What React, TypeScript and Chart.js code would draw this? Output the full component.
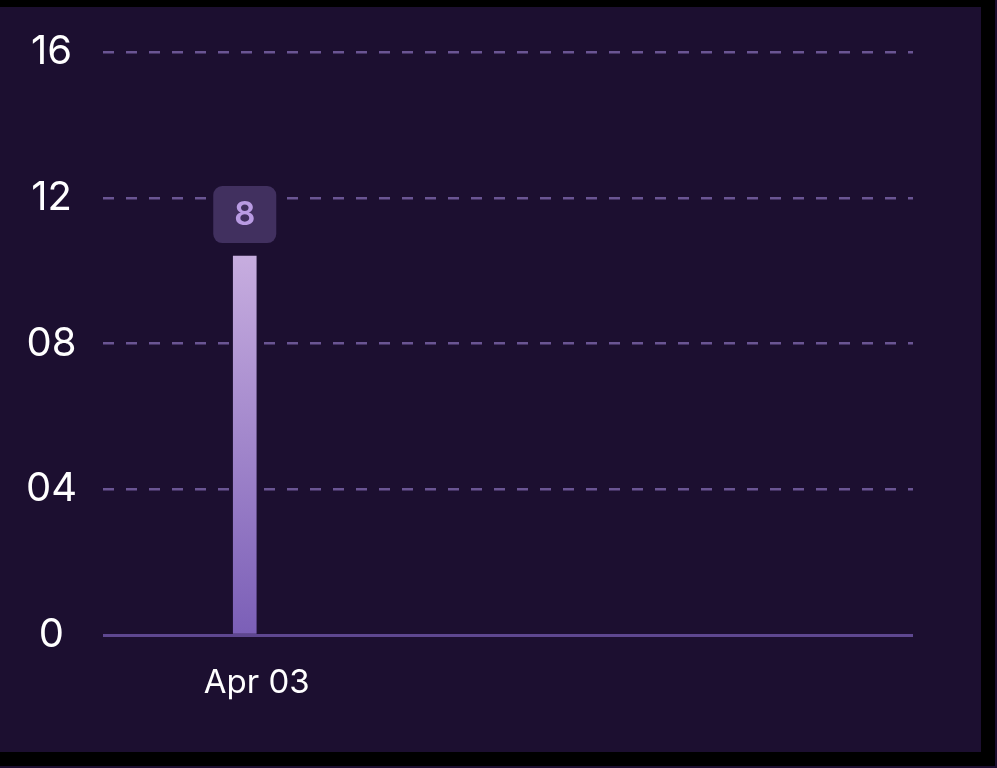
import React, { useEffect, useRef } from "react";
import { Chart, registerables } from "chart.js";

Chart.register(...registerables);

// ---- data ----
const categories: string[] = [
  "", "", "", "Apr 03", "", "", "", "", "", "",
  "", "", "", "", "", "", "", "", "", "",
];
const barValues: (number | null)[] = [
  null, null, null, 10.4, null, null, null, null, null, null,
  null, null, null, null, null, null, null, null, null, null,
];
const badgeTexts: string[] = [
  "", "", "", "8", "", "", "", "", "", "",
  "", "", "", "", "", "", "", "", "", "",
];
const yTickValues: number[] = [0, 4, 8, 12, 16];

const FONT = "Inter, 'Noto Sans', sans-serif";
const PANEL_BG = "#1c0f30";

const badgePlugin = {
  id: "badgePlugin",
  afterDatasetsDraw(chart: any) {
    const meta = chart.getDatasetMeta(0);
    const ctx = chart.ctx as CanvasRenderingContext2D;
    meta.data.forEach((bar: any, i: number) => {
      const txt = badgeTexts[i];
      if (!txt || barValues[i] == null) return;
      const w = 63;
      const h = 57;
      const gap = 13;
      const x = bar.x - w / 2;
      const y = bar.y - gap - h;
      ctx.save();
      ctx.fillStyle = "#41305f";
      ctx.beginPath();
      (ctx as any).roundRect(x, y, w, h, 9);
      ctx.fill();
      ctx.fillStyle = "#b99be3";
      ctx.font = `600 33px ${FONT}`;
      ctx.textAlign = "center";
      ctx.textBaseline = "middle";
      ctx.fillText(txt, bar.x, y + h / 2 + 1);
      ctx.restore();
    });
  },
};

export default function App() {
  const ref = useRef<HTMLCanvasElement | null>(null);

  useEffect(() => {
    document.body.style.margin = "0";
    document.body.style.background = PANEL_BG;
    if (!ref.current) return;
    const chart = new Chart(ref.current, {
      type: "bar",
      data: {
        labels: categories,
        datasets: [
          {
            data: barValues,
            barThickness: 23,
            borderWidth: 0,
            borderRadius: 0,
            backgroundColor: (c: any) => {
              const chart = c.chart;
              const { ctx, chartArea, scales } = chart;
              if (!chartArea || c.raw == null) return "#a78bd0";
              const yTop = scales.y.getPixelForValue(c.raw);
              const yBase = scales.y.getPixelForValue(0);
              const g = ctx.createLinearGradient(0, yTop, 0, yBase);
              g.addColorStop(0, "#c7addf");
              g.addColorStop(1, "#7b5fb7");
              return g;
            },
          },
        ],
      },
      options: {
        animation: false,
        responsive: false,
        maintainAspectRatio: false,
        layout: { padding: { left: 0, right: 68, top: 45, bottom: 0 } },
        plugins: {
          legend: { display: false },
          tooltip: { enabled: false },
        },
        scales: {
          x: {
            grid: { display: false, drawTicks: false },
            border: { display: false },
            afterFit: (s: any) => {
              s.height = 117;
            },
            ticks: {
              autoSkip: false,
              maxRotation: 0,
              minRotation: 0,
              labelOffset: 12,
              padding: 28,
              color: "#ffffff",
              font: { family: FONT, size: 33, weight: "400" },
            },
          },
          y: {
            min: 0,
            max: 16,
            afterFit: (s: any) => {
              s.width = 103;
              s.paddingTop = 0;
              s.paddingBottom = 0;
            },
            afterBuildTicks: (s: any) => {
              s.ticks = yTickValues.map((v) => ({ value: v }));
            },
            grid: {
              drawTicks: false,
              color: (c: any) => (c.tick && c.tick.value === 0 ? "#5e4790" : "#6a5593"),
              lineWidth: (c: any) => (c.tick && c.tick.value === 0 ? 3 : 2.5),
            },
            border: {
              display: false,
              dash: (c: any) => (c.tick && c.tick.value === 0 ? [] : [11, 12]),
            },
            ticks: {
              crossAlign: "center",
              padding: 26,
              color: "#ffffff",
              font: { family: FONT, size: 40, weight: "400" },
              callback: (v: any) => (Number(v) === 0 ? "0" : String(v).padStart(2, "0")),
            },
          },
        },
      },
      plugins: [badgePlugin],
    } as any);
    return () => chart.destroy();
  }, []);

  return (
    <div style={{ width: 995, height: 766, background: "#000", paddingTop: 7, boxSizing: "border-box" }}>
      <div style={{ width: 981, height: 745, background: PANEL_BG }}>
        <canvas ref={ref} width={981} height={745} style={{ width: 981, height: 745, display: "block" }} />
      </div>
    </div>
  );
}
